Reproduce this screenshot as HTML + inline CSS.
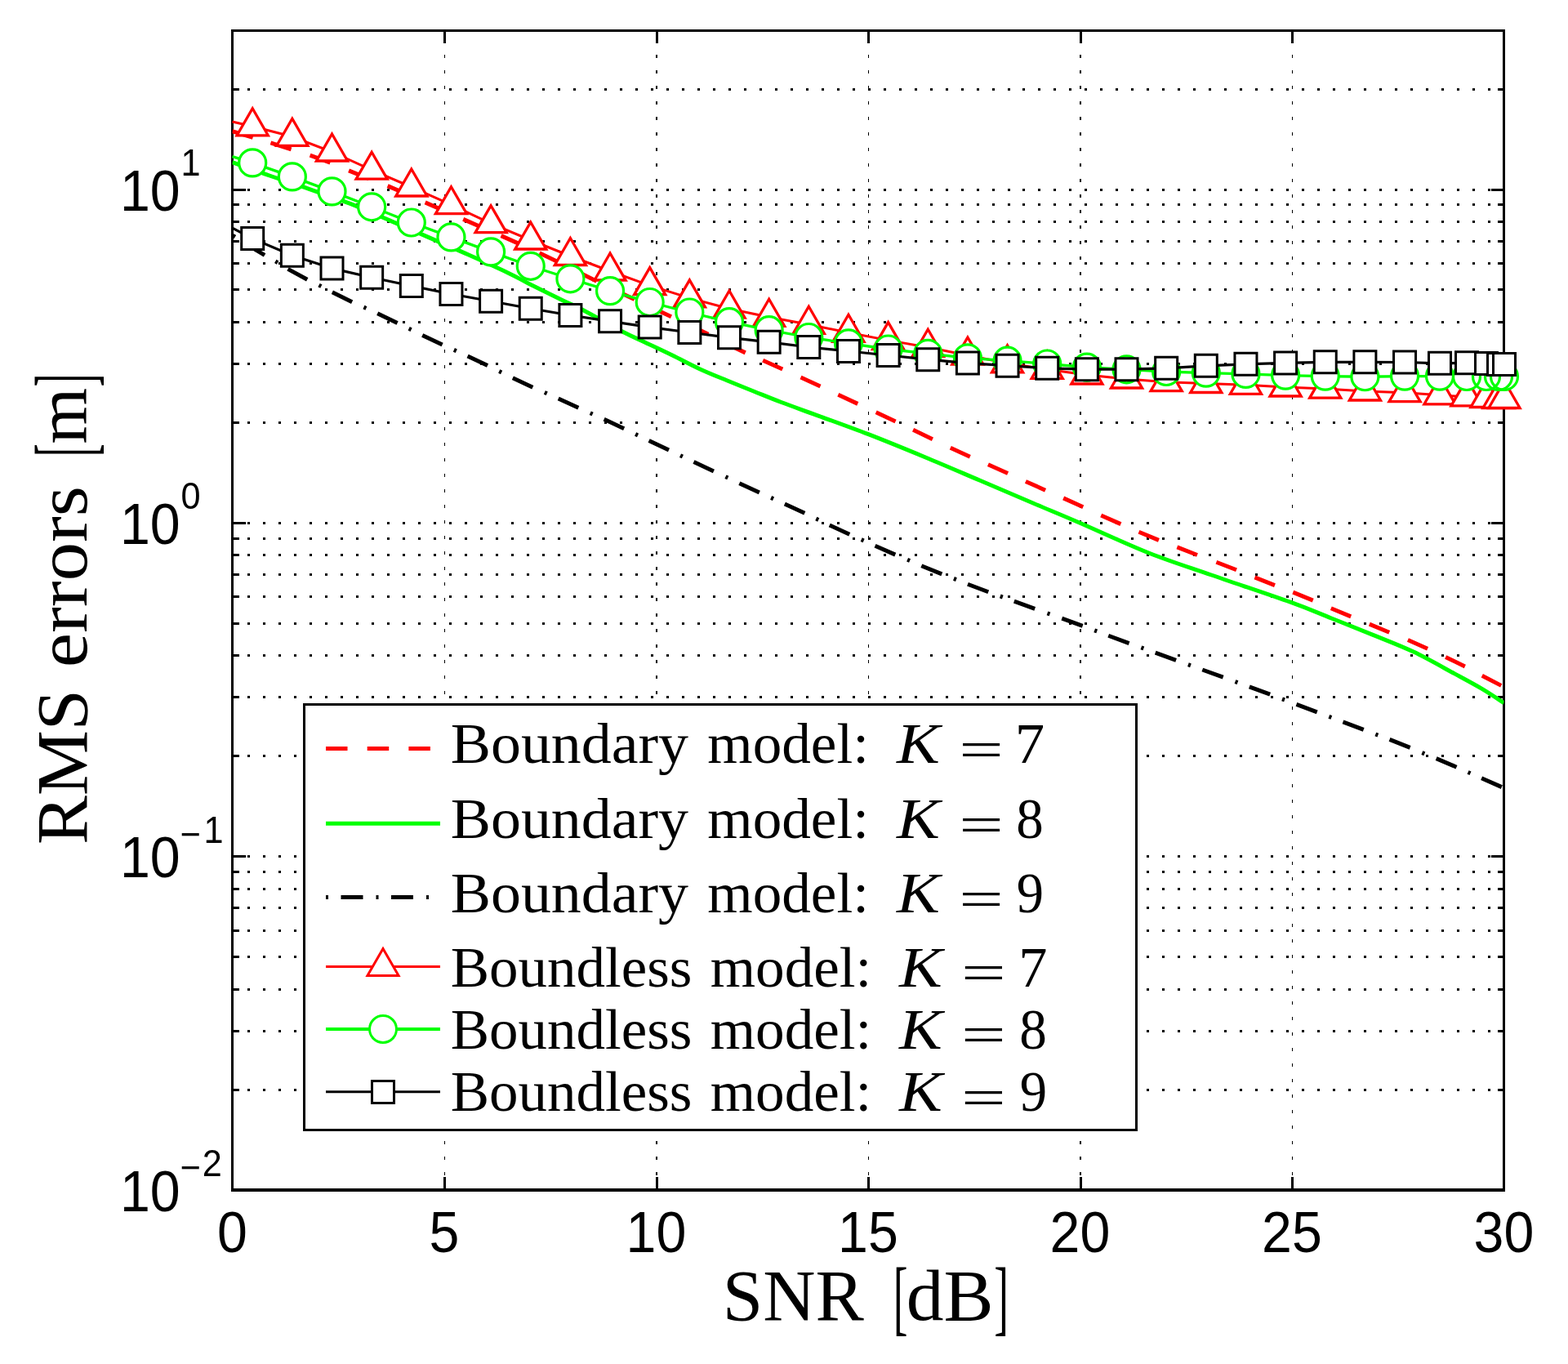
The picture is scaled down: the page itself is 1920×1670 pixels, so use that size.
<!DOCTYPE html>
<html><head><meta charset="utf-8"><title>RMS errors vs SNR</title>
<style>html,body{margin:0;padding:0;background:#fff;width:1920px;height:1670px;}svg{display:block;}</style></head>
<body>
<svg width="1920" height="1670" viewBox="0 0 1920 1670">
<rect width="1920" height="1670" fill="#fff"/>
<path d="M284.00 1334.07H1841.50 M284.00 1262.17H1841.50 M284.00 1211.15H1841.50 M284.00 1171.58H1841.50 M284.00 1139.25H1841.50 M284.00 1111.91H1841.50 M284.00 1088.23H1841.50 M284.00 1067.34H1841.50 M284.00 1048.66H1841.50 M284.00 925.74H1841.50 M284.00 853.84H1841.50 M284.00 802.82H1841.50 M284.00 763.25H1841.50 M284.00 730.92H1841.50 M284.00 703.58H1841.50 M284.00 679.90H1841.50 M284.00 659.01H1841.50 M284.00 640.33H1841.50 M284.00 517.41H1841.50 M284.00 445.51H1841.50 M284.00 394.49H1841.50 M284.00 354.92H1841.50 M284.00 322.59H1841.50 M284.00 295.25H1841.50 M284.00 271.57H1841.50 M284.00 250.68H1841.50 M284.00 232.00H1841.50 M284.00 109.08H1841.50" stroke="#000" stroke-width="3" stroke-dasharray="3 15.99" stroke-dashoffset="0" fill="none" shape-rendering="crispEdges"/>
<path d="M544.50 1458.19V37.18 M804.00 1458.19V37.18 M1063.50 1458.19V37.18 M1323.00 1458.19V37.18 M1582.50 1458.19V37.18" stroke="#000" stroke-width="1.2" stroke-dasharray="4 15" fill="none" shape-rendering="crispEdges"/>
<path d="M284.50 1456.99V1440.99M284.50 37.18V53.18 M544.50 1456.99V1440.99M544.50 37.18V53.18 M804.00 1456.99V1440.99M804.00 37.18V53.18 M1063.50 1456.99V1440.99M1063.50 37.18V53.18 M1323.00 1456.99V1440.99M1323.00 37.18V53.18 M1582.50 1456.99V1440.99M1582.50 37.18V53.18 M1841.50 1456.99V1440.99M1841.50 37.18V53.18 M284.50 1456.99H300.50M1841.50 1456.99H1825.50 M284.50 1334.07H292.50M1841.50 1334.07H1833.50 M284.50 1262.17H292.50M1841.50 1262.17H1833.50 M284.50 1211.15H292.50M1841.50 1211.15H1833.50 M284.50 1171.58H292.50M1841.50 1171.58H1833.50 M284.50 1139.25H292.50M1841.50 1139.25H1833.50 M284.50 1111.91H292.50M1841.50 1111.91H1833.50 M284.50 1088.23H292.50M1841.50 1088.23H1833.50 M284.50 1067.34H292.50M1841.50 1067.34H1833.50 M284.50 1048.66H300.50M1841.50 1048.66H1825.50 M284.50 925.74H292.50M1841.50 925.74H1833.50 M284.50 853.84H292.50M1841.50 853.84H1833.50 M284.50 802.82H292.50M1841.50 802.82H1833.50 M284.50 763.25H292.50M1841.50 763.25H1833.50 M284.50 730.92H292.50M1841.50 730.92H1833.50 M284.50 703.58H292.50M1841.50 703.58H1833.50 M284.50 679.90H292.50M1841.50 679.90H1833.50 M284.50 659.01H292.50M1841.50 659.01H1833.50 M284.50 640.33H300.50M1841.50 640.33H1825.50 M284.50 517.41H292.50M1841.50 517.41H1833.50 M284.50 445.51H292.50M1841.50 445.51H1833.50 M284.50 394.49H292.50M1841.50 394.49H1833.50 M284.50 354.92H292.50M1841.50 354.92H1833.50 M284.50 322.59H292.50M1841.50 322.59H1833.50 M284.50 295.25H292.50M1841.50 295.25H1833.50 M284.50 271.57H292.50M1841.50 271.57H1833.50 M284.50 250.68H292.50M1841.50 250.68H1833.50 M284.50 232.00H300.50M1841.50 232.00H1825.50 M284.50 109.08H292.50M1841.50 109.08H1833.50 M284.50 37.18H292.50M1841.50 37.18H1833.50" stroke="#000" stroke-width="3" fill="none" shape-rendering="crispEdges"/>
<rect x="284.5" y="37.18" width="1557.0" height="1419.81" fill="none" stroke="#000" stroke-width="3.2" shape-rendering="crispEdges"/>
<defs><clipPath id="ax"><rect x="284.5" y="37.5" width="1557" height="1419.5"/></clipPath></defs>
<g clip-path="url(#ax)">
<path d="M284.37 160.68L309.63 168.32 M331.42 174.81L356.58 182.79 M379.61 190.05L404.39 199.15 M427.06 208.87L451.54 218.73 M474.64 227.67L498.96 237.93 M520.63 247.86L544.77 258.54 M567.21 268.39L591.39 279.01 M613.56 288.60L637.64 299.40 M660.59 309.82L684.41 321.18 M706.85 332.58L730.55 344.22 M753.10 355.19L776.90 366.61 M798.06 376.58L821.94 387.82 M843.62 397.74L867.38 409.26 M888.88 420.53L912.72 431.87 M934.16 441.18L958.24 452.02 M980.50 462.00L1004.50 473.00 M1026.33 483.23L1050.27 494.37 M1072.66 504.77L1096.54 516.03 M1118.08 526.33L1141.92 537.67 M1163.80 548.30L1187.80 559.30 M1209.94 568.84L1234.06 579.56 M1255.94 589.43L1280.06 600.17 M1302.16 609.89L1326.24 620.71 M1348.23 630.95L1372.37 641.65 M1394.49 651.28L1418.91 661.32 M1441.39 669.94L1466.01 679.46 M1489.40 688.21L1514.00 697.79 M1536.43 706.84L1560.97 716.56 M1583.28 725.16L1607.72 735.14 M1629.82 744.71L1654.18 754.89 M1676.81 764.13L1701.19 774.27 M1723.92 783.58L1748.08 794.22 M1770.15 804.39L1793.85 816.01 M1814.78 827.22L1838.22 839.38" stroke="#ff0000" stroke-width="5" fill="none"/>
<path d="M284.50 198.70 C292.08 201.42 314.37 209.57 330.00 215.00 C345.63 220.43 361.92 225.60 378.30 231.30 C394.68 237.00 411.93 242.82 428.30 249.20 C444.67 255.58 460.48 262.73 476.50 269.60 C492.52 276.47 508.27 283.37 524.40 290.40 C540.53 297.43 556.98 304.50 573.30 311.80 C589.62 319.10 610.03 328.35 622.30 334.20 C634.57 340.05 635.62 341.22 646.90 346.90 C658.18 352.58 678.93 362.92 690.00 368.30 C701.07 373.68 701.35 372.95 713.30 379.20 C725.25 385.45 748.92 399.13 761.70 405.80 C774.48 412.47 779.73 414.33 790.00 419.20 C800.27 424.07 812.18 429.58 823.30 435.00 C834.42 440.42 845.58 446.57 856.70 451.70 C867.82 456.83 878.90 461.22 890.00 465.80 C901.10 470.38 912.18 474.75 923.30 479.20 C934.42 483.65 943.92 487.65 956.70 492.50 C969.48 497.35 982.23 501.77 1000.00 508.30 C1017.77 514.83 1041.08 523.08 1063.30 531.70 C1085.52 540.32 1110.52 550.57 1133.30 560.00 C1156.08 569.43 1177.77 578.85 1200.00 588.30 C1222.23 597.75 1246.70 608.22 1266.70 616.70 C1286.70 625.18 1296.67 629.15 1320.00 639.20 C1343.33 649.25 1379.48 666.20 1406.70 677.00 C1433.92 687.80 1454.42 693.97 1483.30 704.00 C1512.18 714.03 1555.50 728.37 1580.00 737.20 C1604.50 746.03 1613.53 750.35 1630.30 757.00 C1647.07 763.65 1663.83 770.25 1680.60 777.10 C1697.37 783.95 1714.13 790.13 1730.90 798.10 C1747.67 806.07 1767.23 817.35 1781.20 824.90 C1795.17 832.45 1804.65 837.45 1814.70 843.40 C1824.75 849.35 1837.03 857.73 1841.50 860.60" stroke="#00ff00" stroke-width="5" fill="none" stroke-linejoin="round"/>
<path d="M300.91 298.57L324.09 312.43 M352.55 329.33L376.25 342.27 M406.87 357.77L431.13 369.63 M462.21 383.80L486.59 395.40 M517.19 410.44L541.61 421.96 M572.59 435.93L597.01 447.47 M627.87 462.79L652.33 474.21 M683.70 488.04L708.30 499.16 M739.66 513.30L764.14 524.70 M794.61 539.39L818.99 551.01 M849.48 565.56L873.92 577.04 M905.34 591.65L929.86 602.95 M960.86 616.91L985.34 628.29 M1015.74 642.95L1040.26 654.25 M1071.53 668.30L1096.27 679.10 M1128.30 692.71L1153.30 702.89 M1184.97 715.22L1210.23 724.78 M1241.80 736.21L1267.20 745.39 M1300.32 757.07L1325.68 766.33 M1357.23 778.24L1382.57 787.56 M1414.71 799.15L1440.09 808.35 M1472.31 820.00L1497.69 829.20 M1529.84 840.82L1555.16 850.18 M1587.46 862.35L1612.74 871.85 M1644.48 883.81L1669.72 893.39 M1701.55 905.41L1726.65 915.39 M1758.68 928.62L1783.52 939.18 M1814.14 952.78L1838.86 963.62 M285.14 288.35L287.86 290.05 M337.28 319.96L340.04 321.58 M390.49 349.13L393.34 350.59 M445.47 376.08L448.37 377.43 M500.68 402.31L503.56 403.70 M555.87 428.38L558.78 429.72 M611.23 454.51L614.11 455.90 M666.81 480.50L669.73 481.81 M722.72 505.74L725.63 507.06 M778.13 531.52L781.01 532.89 M833.02 557.67L835.91 559.04 M888.42 583.73L891.32 585.08 M944.12 609.39L947.03 610.71 M999.32 635.02L1002.22 636.39 M1054.71 660.60L1057.63 661.91 M1111.10 685.22L1114.05 686.47 M1167.94 708.41L1170.92 709.57 M1224.77 729.93L1227.78 731.03 M1282.48 750.80L1285.49 751.87 M1340.18 771.83L1343.18 772.94 M1397.38 792.86L1400.38 793.95 M1454.93 813.71L1457.93 814.80 M1512.48 834.59L1515.48 835.68 M1570.03 855.82L1573.03 856.95 M1627.33 877.37L1630.33 878.50 M1684.33 899.02L1687.32 900.16 M1741.35 921.63L1744.31 922.85 M1797.56 945.50L1800.49 946.79" stroke="#000000" stroke-width="5" fill="none"/>
</g>
<path d="M284.50 149.00 L309.20 154.80 L357.85 167.30 L406.50 186.00 L455.15 208.20 L503.80 229.00 L552.45 250.70 L601.10 273.70 L649.75 294.00 L698.40 313.50 L747.05 332.00 L795.70 349.60 L844.35 364.90 L893.00 378.00 L941.65 388.30 L990.30 397.30 L1038.95 407.30 L1087.60 416.60 L1136.25 425.30 L1184.90 435.00 L1233.55 444.80 L1282.20 452.30 L1330.85 459.00 L1379.50 464.00 L1428.15 467.70 L1476.80 469.50 L1525.45 471.30 L1574.10 474.00 L1622.75 476.10 L1671.40 479.00 L1720.05 480.70 L1763.00 483.80 L1796.00 485.90 L1820.00 487.50 L1835.00 488.50 L1842.00 488.50" stroke="#ff0000" stroke-width="3" fill="none" stroke-linejoin="round"/>
<g stroke="#ff0000" stroke-width="3.3" fill="#fff" stroke-miterlimit="10"><path d="M309.20 132.80L328.25 165.80L290.15 165.80Z"/><path d="M357.85 145.30L376.90 178.30L338.80 178.30Z"/><path d="M406.50 164.00L425.55 197.00L387.45 197.00Z"/><path d="M455.15 186.20L474.20 219.20L436.10 219.20Z"/><path d="M503.80 207.00L522.85 240.00L484.75 240.00Z"/><path d="M552.45 228.70L571.50 261.70L533.40 261.70Z"/><path d="M601.10 251.70L620.15 284.70L582.05 284.70Z"/><path d="M649.75 272.00L668.80 305.00L630.70 305.00Z"/><path d="M698.40 291.50L717.45 324.50L679.35 324.50Z"/><path d="M747.05 310.00L766.10 343.00L728.00 343.00Z"/><path d="M795.70 327.60L814.75 360.60L776.65 360.60Z"/><path d="M844.35 342.90L863.40 375.90L825.30 375.90Z"/><path d="M893.00 356.00L912.05 389.00L873.95 389.00Z"/><path d="M941.65 366.30L960.70 399.30L922.60 399.30Z"/><path d="M990.30 375.30L1009.35 408.30L971.25 408.30Z"/><path d="M1038.95 385.30L1058.00 418.30L1019.90 418.30Z"/><path d="M1087.60 394.60L1106.65 427.60L1068.55 427.60Z"/><path d="M1136.25 403.30L1155.30 436.30L1117.20 436.30Z"/><path d="M1184.90 413.00L1203.95 446.00L1165.85 446.00Z"/><path d="M1233.55 422.80L1252.60 455.80L1214.50 455.80Z"/><path d="M1282.20 430.30L1301.25 463.30L1263.15 463.30Z"/><path d="M1330.85 437.00L1349.90 470.00L1311.80 470.00Z"/><path d="M1379.50 442.00L1398.55 475.00L1360.45 475.00Z"/><path d="M1428.15 445.70L1447.20 478.70L1409.10 478.70Z"/><path d="M1476.80 447.50L1495.85 480.50L1457.75 480.50Z"/><path d="M1525.45 449.30L1544.50 482.30L1506.40 482.30Z"/><path d="M1574.10 452.00L1593.15 485.00L1555.05 485.00Z"/><path d="M1622.75 454.10L1641.80 487.10L1603.70 487.10Z"/><path d="M1671.40 457.00L1690.45 490.00L1652.35 490.00Z"/><path d="M1720.05 458.70L1739.10 491.70L1701.00 491.70Z"/><path d="M1763.00 461.80L1782.05 494.80L1743.95 494.80Z"/><path d="M1796.00 463.90L1815.05 496.90L1776.95 496.90Z"/><path d="M1820.00 465.50L1839.05 498.50L1800.95 498.50Z"/><path d="M1835.00 466.50L1854.05 499.50L1815.95 499.50Z"/><path d="M1842.00 466.50L1861.05 499.50L1822.95 499.50Z"/></g>
<path d="M284.50 191.70 L309.20 199.40 L357.85 216.40 L406.50 234.40 L455.15 253.30 L503.80 272.50 L552.45 290.40 L601.10 308.40 L649.75 325.80 L698.40 341.30 L747.05 356.20 L795.70 370.00 L844.35 382.50 L893.00 394.20 L941.65 404.20 L990.30 413.00 L1038.95 420.30 L1087.60 427.50 L1136.25 432.80 L1184.90 438.30 L1233.55 441.70 L1282.20 445.50 L1330.85 449.60 L1379.50 452.30 L1428.15 455.00 L1476.80 456.60 L1525.45 457.90 L1574.10 459.60 L1622.75 460.60 L1671.40 461.25 L1720.05 460.60 L1763.00 460.60 L1796.00 461.00 L1820.00 461.00 L1835.00 461.00 L1842.00 461.00" stroke="#00ff00" stroke-width="3.3" fill="none" stroke-linejoin="round"/>
<g fill="#fff"><circle cx="309.20" cy="199.40" r="16.5"/><circle cx="357.85" cy="216.40" r="16.5"/><circle cx="406.50" cy="234.40" r="16.5"/><circle cx="455.15" cy="253.30" r="16.5"/><circle cx="503.80" cy="272.50" r="16.5"/><circle cx="552.45" cy="290.40" r="16.5"/><circle cx="601.10" cy="308.40" r="16.5"/><circle cx="649.75" cy="325.80" r="16.5"/><circle cx="698.40" cy="341.30" r="16.5"/><circle cx="747.05" cy="356.20" r="16.5"/><circle cx="795.70" cy="370.00" r="16.5"/><circle cx="844.35" cy="382.50" r="16.5"/><circle cx="893.00" cy="394.20" r="16.5"/><circle cx="941.65" cy="404.20" r="16.5"/><circle cx="990.30" cy="413.00" r="16.5"/><circle cx="1038.95" cy="420.30" r="16.5"/><circle cx="1087.60" cy="427.50" r="16.5"/><circle cx="1136.25" cy="432.80" r="16.5"/><circle cx="1184.90" cy="438.30" r="16.5"/><circle cx="1233.55" cy="441.70" r="16.5"/><circle cx="1282.20" cy="445.50" r="16.5"/><circle cx="1330.85" cy="449.60" r="16.5"/><circle cx="1379.50" cy="452.30" r="16.5"/><circle cx="1428.15" cy="455.00" r="16.5"/><circle cx="1476.80" cy="456.60" r="16.5"/><circle cx="1525.45" cy="457.90" r="16.5"/><circle cx="1574.10" cy="459.60" r="16.5"/><circle cx="1622.75" cy="460.60" r="16.5"/><circle cx="1671.40" cy="461.25" r="16.5"/><circle cx="1720.05" cy="460.60" r="16.5"/><circle cx="1763.00" cy="460.60" r="16.5"/><circle cx="1796.00" cy="461.00" r="16.5"/><circle cx="1820.00" cy="461.00" r="16.5"/><circle cx="1835.00" cy="461.00" r="16.5"/><circle cx="1842.00" cy="461.00" r="16.5"/></g>
<g stroke="#00ff00" stroke-width="3.2" fill="none"><circle cx="309.20" cy="199.40" r="16.5"/><circle cx="357.85" cy="216.40" r="16.5"/><circle cx="406.50" cy="234.40" r="16.5"/><circle cx="455.15" cy="253.30" r="16.5"/><circle cx="503.80" cy="272.50" r="16.5"/><circle cx="552.45" cy="290.40" r="16.5"/><circle cx="601.10" cy="308.40" r="16.5"/><circle cx="649.75" cy="325.80" r="16.5"/><circle cx="698.40" cy="341.30" r="16.5"/><circle cx="747.05" cy="356.20" r="16.5"/><circle cx="795.70" cy="370.00" r="16.5"/><circle cx="844.35" cy="382.50" r="16.5"/><circle cx="893.00" cy="394.20" r="16.5"/><circle cx="941.65" cy="404.20" r="16.5"/><circle cx="990.30" cy="413.00" r="16.5"/><circle cx="1038.95" cy="420.30" r="16.5"/><circle cx="1087.60" cy="427.50" r="16.5"/><circle cx="1136.25" cy="432.80" r="16.5"/><circle cx="1184.90" cy="438.30" r="16.5"/><circle cx="1233.55" cy="441.70" r="16.5"/><circle cx="1282.20" cy="445.50" r="16.5"/><circle cx="1330.85" cy="449.60" r="16.5"/><circle cx="1379.50" cy="452.30" r="16.5"/><circle cx="1428.15" cy="455.00" r="16.5"/><circle cx="1476.80" cy="456.60" r="16.5"/><circle cx="1525.45" cy="457.90" r="16.5"/><circle cx="1574.10" cy="459.60" r="16.5"/><circle cx="1622.75" cy="460.60" r="16.5"/><circle cx="1671.40" cy="461.25" r="16.5"/><circle cx="1720.05" cy="460.60" r="16.5"/><circle cx="1763.00" cy="460.60" r="16.5"/><circle cx="1796.00" cy="461.00" r="16.5"/><circle cx="1820.00" cy="461.00" r="16.5"/><circle cx="1835.00" cy="461.00" r="16.5"/><circle cx="1842.00" cy="461.00" r="16.5"/></g>
<path d="M284.50 279.20 L309.20 292.10 L357.85 312.70 L406.50 328.60 L455.15 339.80 L503.80 350.00 L552.45 360.00 L601.10 368.80 L649.75 377.70 L698.40 386.00 L747.05 393.30 L795.70 400.60 L844.35 407.00 L893.00 413.30 L941.65 418.80 L990.30 425.00 L1038.95 430.00 L1087.60 435.00 L1136.25 440.20 L1184.90 444.60 L1233.55 447.70 L1282.20 450.80 L1330.85 452.20 L1379.50 452.20 L1428.15 450.80 L1476.80 447.80 L1525.45 445.80 L1574.10 444.40 L1622.75 443.30 L1671.40 443.30 L1720.05 443.50 L1763.00 444.80 L1796.00 444.30 L1820.00 445.00 L1835.00 446.00 L1842.00 446.00" stroke="#000000" stroke-width="3.2" fill="none" stroke-linejoin="round"/>
<g stroke="#000000" stroke-width="3" fill="#fff"><path d="M295.70 278.60h27v27h-27Z"/><path d="M344.35 299.20h27v27h-27Z"/><path d="M393.00 315.10h27v27h-27Z"/><path d="M441.65 326.30h27v27h-27Z"/><path d="M490.30 336.50h27v27h-27Z"/><path d="M538.95 346.50h27v27h-27Z"/><path d="M587.60 355.30h27v27h-27Z"/><path d="M636.25 364.20h27v27h-27Z"/><path d="M684.90 372.50h27v27h-27Z"/><path d="M733.55 379.80h27v27h-27Z"/><path d="M782.20 387.10h27v27h-27Z"/><path d="M830.85 393.50h27v27h-27Z"/><path d="M879.50 399.80h27v27h-27Z"/><path d="M928.15 405.30h27v27h-27Z"/><path d="M976.80 411.50h27v27h-27Z"/><path d="M1025.45 416.50h27v27h-27Z"/><path d="M1074.10 421.50h27v27h-27Z"/><path d="M1122.75 426.70h27v27h-27Z"/><path d="M1171.40 431.10h27v27h-27Z"/><path d="M1220.05 434.20h27v27h-27Z"/><path d="M1268.70 437.30h27v27h-27Z"/><path d="M1317.35 438.70h27v27h-27Z"/><path d="M1366.00 438.70h27v27h-27Z"/><path d="M1414.65 437.30h27v27h-27Z"/><path d="M1463.30 434.30h27v27h-27Z"/><path d="M1511.95 432.30h27v27h-27Z"/><path d="M1560.60 430.90h27v27h-27Z"/><path d="M1609.25 429.80h27v27h-27Z"/><path d="M1657.90 429.80h27v27h-27Z"/><path d="M1706.55 430.00h27v27h-27Z"/><path d="M1749.50 431.30h27v27h-27Z"/><path d="M1782.50 430.80h27v27h-27Z"/><path d="M1806.50 431.50h27v27h-27Z"/><path d="M1821.50 432.50h27v27h-27Z"/><path d="M1828.50 432.50h27v27h-27Z"/></g>
<rect x="372" y="862.3" width="1019" height="521.0" fill="#fff" stroke="#000" stroke-width="3" shape-rendering="crispEdges"/>
<path d="M399 916.4H539" stroke="#ff0000" stroke-width="5" stroke-dasharray="26.5 24.2" fill="none"/>
<path d="M399 1008.3H539" stroke="#00ff00" stroke-width="5" fill="none"/>
<path d="M399 1098.6H539" stroke="#000000" stroke-width="5" stroke-dasharray="3 15.5 27 16" fill="none"/>
<path d="M399 1183.5H539" stroke="#ff0000" stroke-width="3" fill="none"/>
<path d="M469.00 1161.50L488.05 1194.50L449.95 1194.50Z" stroke="#ff0000" stroke-width="3" fill="#fff" stroke-miterlimit="10"/>
<path d="M399 1260H539" stroke="#00ff00" stroke-width="4" fill="none"/>
<circle cx="469" cy="1260" r="16.5" stroke="#00ff00" stroke-width="3" fill="#fff"/>
<path d="M399 1336.8H539" stroke="#000000" stroke-width="3" fill="none"/>
<path d="M455.50 1323.50h27v27h-27Z" stroke="#000000" stroke-width="3" fill="#fff"/>
<text transform="translate(284.50 1532.80) scale(0.9500 1)" style="font-family:'Liberation Sans',Arial,Helvetica,sans-serif;font-size:69.8px" text-anchor="middle">0</text>
<text transform="translate(544.00 1532.80) scale(0.9500 1)" style="font-family:'Liberation Sans',Arial,Helvetica,sans-serif;font-size:69.8px" text-anchor="middle">5</text>
<text transform="translate(803.50 1532.80) scale(0.9500 1)" style="font-family:'Liberation Sans',Arial,Helvetica,sans-serif;font-size:69.8px" text-anchor="middle">10</text>
<text transform="translate(1063.00 1532.80) scale(0.9500 1)" style="font-family:'Liberation Sans',Arial,Helvetica,sans-serif;font-size:69.8px" text-anchor="middle">15</text>
<text transform="translate(1322.50 1532.80) scale(0.9500 1)" style="font-family:'Liberation Sans',Arial,Helvetica,sans-serif;font-size:69.8px" text-anchor="middle">20</text>
<text transform="translate(1582.00 1532.80) scale(0.9500 1)" style="font-family:'Liberation Sans',Arial,Helvetica,sans-serif;font-size:69.8px" text-anchor="middle">25</text>
<text transform="translate(1841.50 1532.80) scale(0.9500 1)" style="font-family:'Liberation Sans',Arial,Helvetica,sans-serif;font-size:69.8px" text-anchor="middle">30</text>
<text transform="translate(146.90 257.80) scale(0.9500 1)" style="font-family:'Liberation Sans',Arial,Helvetica,sans-serif;font-size:69.8px">10</text>
<text transform="translate(221.50 215.00) scale(0.9400 1)" style="font-family:'Liberation Sans',Arial,Helvetica,sans-serif;font-size:46px">1</text>
<text transform="translate(146.90 666.13) scale(0.9500 1)" style="font-family:'Liberation Sans',Arial,Helvetica,sans-serif;font-size:69.8px">10</text>
<text transform="translate(221.50 623.33) scale(0.9400 1)" style="font-family:'Liberation Sans',Arial,Helvetica,sans-serif;font-size:46px">0</text>
<text transform="translate(146.90 1074.46) scale(0.9500 1)" style="font-family:'Liberation Sans',Arial,Helvetica,sans-serif;font-size:69.8px">10</text>
<text transform="translate(220.80 1036.66) scale(0.9400 1)" style="font-family:'Liberation Sans',Arial,Helvetica,sans-serif;font-size:46px">−</text>
<text transform="translate(249.60 1031.66) scale(0.9400 1)" style="font-family:'Liberation Sans',Arial,Helvetica,sans-serif;font-size:46px">1</text>
<text transform="translate(146.90 1482.79) scale(0.9500 1)" style="font-family:'Liberation Sans',Arial,Helvetica,sans-serif;font-size:69.8px">10</text>
<text transform="translate(220.80 1444.99) scale(0.9400 1)" style="font-family:'Liberation Sans',Arial,Helvetica,sans-serif;font-size:46px">−</text>
<text transform="translate(247.80 1439.99) scale(0.9400 1)" style="font-family:'Liberation Sans',Arial,Helvetica,sans-serif;font-size:46px">2</text>
<text transform="translate(884.86 1615.50) scale(0.9896 1.0000)" style="font-family:'Liberation Serif','Times New Roman',serif;font-size:89.8px">SNR</text>
<text transform="translate(1109.69 1615.50) scale(1.0189 1.0000)" style="font-family:'Liberation Serif','Times New Roman',serif;font-size:89.8px">dB</text>
<text transform="translate(1093.63 1622.40) scale(0.5292 1.0000)" style="font-family:'Liberation Serif','Times New Roman',serif;font-size:101px">[</text>
<text transform="translate(1217.37 1622.40) scale(0.5292 1.0000)" style="font-family:'Liberation Serif','Times New Roman',serif;font-size:101px">]</text>
<g transform="translate(106.1 0) rotate(-90)"><text transform="translate(-1034.09 0.00) scale(1.0015 1.0000)" style="font-family:'Liberation Serif','Times New Roman',serif;font-size:89.8px">RMS</text><text transform="translate(-817.22 0.00) scale(1.0604 1.0000)" style="font-family:'Liberation Serif','Times New Roman',serif;font-size:89.8px">errors</text><text transform="translate(-543.56 0.00) scale(0.9841 1.0000)" style="font-family:'Liberation Serif','Times New Roman',serif;font-size:89.8px">m</text><text transform="translate(-558.93 6.90) scale(0.4714 1.0000)" style="font-family:'Liberation Serif','Times New Roman',serif;font-size:101px">[</text><text transform="translate(-473.62 6.90) scale(0.4714 1.0000)" style="font-family:'Liberation Serif','Times New Roman',serif;font-size:101px">]</text></g>
<text transform="translate(551.67 934.00) scale(1.0511 1.0000)" style="font-family:'Liberation Serif','Times New Roman',serif;font-size:70.3px">Boundary</text>
<text transform="translate(866.31 934.00) scale(1.0124 1.0000)" style="font-family:'Liberation Serif','Times New Roman',serif;font-size:70.3px">model:</text>
<text transform="translate(1097.93 934.00) scale(1.1274 1.0000)" style="font-family:'Liberation Serif','Times New Roman',serif;font-size:70.3px;font-style:italic">K</text>
<text transform="translate(1174.28 938.50) scale(1.3756 0.9000)" style="font-family:'Liberation Serif','Times New Roman',serif;font-size:70.3px">=</text>
<text transform="translate(1242.70 934.00) scale(1.0354 1.0000)" style="font-family:'Liberation Serif','Times New Roman',serif;font-size:70.3px">7</text>
<text transform="translate(551.67 1026.00) scale(1.0511 1.0000)" style="font-family:'Liberation Serif','Times New Roman',serif;font-size:70.3px">Boundary</text>
<text transform="translate(866.31 1026.00) scale(1.0124 1.0000)" style="font-family:'Liberation Serif','Times New Roman',serif;font-size:70.3px">model:</text>
<text transform="translate(1097.93 1026.00) scale(1.1274 1.0000)" style="font-family:'Liberation Serif','Times New Roman',serif;font-size:70.3px;font-style:italic">K</text>
<text transform="translate(1174.28 1030.50) scale(1.3756 0.9000)" style="font-family:'Liberation Serif','Times New Roman',serif;font-size:70.3px">=</text>
<text transform="translate(1244.25 1026.00) scale(0.9532 1.0000)" style="font-family:'Liberation Serif','Times New Roman',serif;font-size:70.3px">8</text>
<text transform="translate(551.67 1117.00) scale(1.0511 1.0000)" style="font-family:'Liberation Serif','Times New Roman',serif;font-size:70.3px">Boundary</text>
<text transform="translate(866.31 1117.00) scale(1.0124 1.0000)" style="font-family:'Liberation Serif','Times New Roman',serif;font-size:70.3px">model:</text>
<text transform="translate(1097.93 1117.00) scale(1.1274 1.0000)" style="font-family:'Liberation Serif','Times New Roman',serif;font-size:70.3px;font-style:italic">K</text>
<text transform="translate(1174.28 1121.50) scale(1.3756 0.9000)" style="font-family:'Liberation Serif','Times New Roman',serif;font-size:70.3px">=</text>
<text transform="translate(1244.66 1117.00) scale(0.9466 1.0000)" style="font-family:'Liberation Serif','Times New Roman',serif;font-size:70.3px">9</text>
<text transform="translate(551.75 1207.80) scale(1.0098 1.0000)" style="font-family:'Liberation Serif','Times New Roman',serif;font-size:70.3px">Boundless</text>
<text transform="translate(869.71 1207.80) scale(1.0124 1.0000)" style="font-family:'Liberation Serif','Times New Roman',serif;font-size:70.3px">model:</text>
<text transform="translate(1100.93 1207.80) scale(1.1255 1.0000)" style="font-family:'Liberation Serif','Times New Roman',serif;font-size:70.3px;font-style:italic">K</text>
<text transform="translate(1177.06 1212.30) scale(1.3817 0.9000)" style="font-family:'Liberation Serif','Times New Roman',serif;font-size:70.3px">=</text>
<text transform="translate(1247.26 1207.80) scale(1.0003 1.0000)" style="font-family:'Liberation Serif','Times New Roman',serif;font-size:70.3px">7</text>
<text transform="translate(551.75 1283.60) scale(1.0098 1.0000)" style="font-family:'Liberation Serif','Times New Roman',serif;font-size:70.3px">Boundless</text>
<text transform="translate(869.71 1283.60) scale(1.0124 1.0000)" style="font-family:'Liberation Serif','Times New Roman',serif;font-size:70.3px">model:</text>
<text transform="translate(1100.93 1283.60) scale(1.1255 1.0000)" style="font-family:'Liberation Serif','Times New Roman',serif;font-size:70.3px;font-style:italic">K</text>
<text transform="translate(1177.06 1288.10) scale(1.3817 0.9000)" style="font-family:'Liberation Serif','Times New Roman',serif;font-size:70.3px">=</text>
<text transform="translate(1248.24 1283.60) scale(0.9565 1.0000)" style="font-family:'Liberation Serif','Times New Roman',serif;font-size:70.3px">8</text>
<text transform="translate(551.75 1360.40) scale(1.0098 1.0000)" style="font-family:'Liberation Serif','Times New Roman',serif;font-size:70.3px">Boundless</text>
<text transform="translate(869.71 1360.40) scale(1.0124 1.0000)" style="font-family:'Liberation Serif','Times New Roman',serif;font-size:70.3px">model:</text>
<text transform="translate(1100.93 1360.40) scale(1.1255 1.0000)" style="font-family:'Liberation Serif','Times New Roman',serif;font-size:70.3px;font-style:italic">K</text>
<text transform="translate(1177.06 1364.90) scale(1.3817 0.9000)" style="font-family:'Liberation Serif','Times New Roman',serif;font-size:70.3px">=</text>
<text transform="translate(1248.65 1360.40) scale(0.9500 1.0000)" style="font-family:'Liberation Serif','Times New Roman',serif;font-size:70.3px">9</text>
</svg>
</body></html>
